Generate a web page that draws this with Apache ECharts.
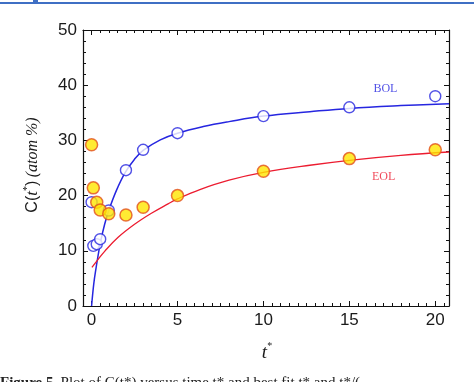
<!DOCTYPE html>
<html>
<head>
<meta charset="utf-8">
<script src="https://cdn.jsdelivr.net/npm/echarts@6/dist/echarts.min.js"></script>
<style>
html,body{margin:0;padding:0;background:#fff;}
#chart{width:474px;height:382px;}
</style>
</head>
<body>
<div id="chart"></div>
<script>
// Measured data (BOL open circles, EOL filled circles)
var bolT = [0, 0.1, 0.3, 0.5, 1, 2, 3, 5, 10, 15, 20];
var bolC = [18.8, 10.9, 11.2, 12.1, 17.3, 24.6, 28.3, 31.3, 34.4, 36.0, 38.0];
var eolT = [0, 0.1, 0.3, 0.5, 1, 2, 3, 5, 10, 15, 20];
var eolC = [29.2, 21.4, 18.8, 17.4, 16.7, 16.5, 17.9, 20.0, 24.4, 26.7, 28.3];

// Fitted curves
var bolFitT = [0, 0.13, 0.27, 0.37, 0.52, 0.76, 1.0, 1.44, 1.96, 2.5, 3.0, 4.0, 5.0, 6.5, 8, 10, 12.7, 15, 18, 20.8];
var bolFitC = [0.0, 4.1, 7.1, 9.0, 11.6, 14.8, 17.3, 20.9, 24.2, 26.6, 28.2, 30.1, 31.3, 32.5, 33.4, 34.4, 35.2, 35.8, 36.3, 36.65];
var eolFitT = [0.02, 0.37, 0.76, 1.53, 2.5, 3.48, 4.45, 5.0, 6.3, 8, 10, 12.7, 15, 18, 20.8];
var eolFitC = [7.0, 8.4, 9.9, 12.4, 14.8, 16.8, 18.5, 19.4, 21.1, 22.8, 24.2, 25.5, 26.4, 27.3, 27.9];

// Axis ticks
var xMajor = [0, 5, 10, 15, 20];
var xMinor = [-0.5, 0.5, 1, 1.5, 2, 2.5, 3, 3.5, 4, 4.5, 5.5, 6, 6.5, 7, 7.5, 8, 8.5, 9, 9.5,
              10.5, 11, 11.5, 12, 12.5, 13, 13.5, 14, 14.5, 15.5, 16, 16.5, 17, 17.5, 18, 18.5, 19, 19.5, 20.5];
var yMajor = [0, 10, 20, 30, 40, 50];
var yMinor = [2, 4, 6, 8, 12, 14, 16, 18, 22, 24, 26, 28, 32, 34, 36, 38, 42, 44, 46, 48];

// Curve labels
var curveLabels = [[17.1, 39.3, 'BOL'], [17.0, 23.4, 'EOL']];

var X_MIN = -0.5, X_MAX = 20.8, Y_MIN = 0, Y_MAX = 50;
var BLUE = '#2626e0', RED = '#ec1c30';

function zip(a, b) { return a.map(function (v, i) { return [v, b[i]]; }); }

function xAx(pos, vals, len, showLine, showLabel) {
  return {
    type: 'value', position: pos, min: X_MIN, max: X_MAX, gridIndex: 0,
    axisLine: { show: showLine, onZero: false, lineStyle: { color: '#111', width: 1.2 } },
    axisTick: { show: true, inside: true, length: len, customValues: vals, lineStyle: { color: '#111', width: 1 } },
    axisLabel: { show: showLabel, customValues: xMajor, fontFamily: 'Liberation Sans, Arial', fontSize: 17, color: '#1a1a1a', margin: 6 },
    splitLine: { show: false }
  };
}
function yAx(pos, vals, len, showLine, showLabel) {
  return {
    type: 'value', position: pos, min: Y_MIN, max: Y_MAX, gridIndex: 0,
    axisLine: { show: showLine, onZero: false, lineStyle: { color: '#111', width: 1.2 } },
    axisTick: { show: true, inside: true, length: len, customValues: vals, lineStyle: { color: '#111', width: 1 } },
    axisLabel: { show: showLabel, customValues: yMajor, fontFamily: 'Liberation Sans, Arial', fontSize: 17, color: '#1a1a1a', margin: 6 },
    splitLine: { show: false }
  };
}

var chart = echarts.init(document.getElementById('chart'));
chart.setOption({
  animation: false,
  backgroundColor: '#fff',
  grid: { left: 83, top: 30, right: 25, bottom: 76 },
  xAxis: [
    xAx('bottom', xMajor, 5, true, true),
    xAx('bottom', xMinor, 3, false, false),
    xAx('top', xMajor, 5, true, false),
    xAx('top', xMinor, 3, false, false)
  ],
  yAxis: [
    yAx('left', yMajor, 5, true, true),
    yAx('left', yMinor, 3, false, false),
    yAx('right', yMajor, 5, true, false),
    yAx('right', yMinor, 3, false, false)
  ],
  graphic: [
    { type: 'rect', shape: { x: 0, y: 2, width: 474, height: 2 }, style: { fill: '#3f6fc4' } },
    { type: 'rect', shape: { x: 33, y: 0, width: 5, height: 3 }, style: { fill: '#3f6fc4' } },
    {
      type: 'text', x: 33, y: 165, rotation: Math.PI / 2,
      style: {
        text: '{a|C(}{b|t}{s|*}{a|)} {c|(atom %)}',
        align: 'center', verticalAlign: 'middle',
        rich: {
          a: { fontFamily: 'Liberation Sans, Arial', fontSize: 16, fill: '#1a1a1a' },
          b: { fontFamily: 'Liberation Serif, Times New Roman', fontStyle: 'italic', fontSize: 17, fill: '#1a1a1a' },
          s: { fontFamily: 'Liberation Serif', fontSize: 10, fill: '#1a1a1a', verticalAlign: 'top', lineHeight: 22 },
          c: { fontFamily: 'Liberation Serif, Times New Roman', fontStyle: 'italic', fontSize: 16, fill: '#1a1a1a' }
        }
      }
    },
    {
      type: 'text', x: 267, y: 353,
      style: {
        text: '{b|t}{s|*}',
        align: 'center', verticalAlign: 'middle',
        rich: {
          b: { fontFamily: 'Liberation Serif, Times New Roman', fontStyle: 'italic', fontSize: 19, fill: '#1a1a1a' },
          s: { fontFamily: 'Liberation Serif', fontSize: 10, fill: '#1a1a1a', verticalAlign: 'top', lineHeight: 24 }
        }
      }
    },
    {
      type: 'text', x: 0, y: 376,
      style: {
        text: '{f|Figure 5.} {n|Plot of C(t*) versus time t* and best fit t* and t*/(}',
        align: 'left', verticalAlign: 'top',
        rich: {
          f: { fontFamily: 'Liberation Serif', fontWeight: 'bold', fontSize: 15, fill: '#222' },
          n: { fontFamily: 'Liberation Serif', fontSize: 15, fill: '#222' }
        }
      }
    }
  ],
  series: [
    {
      type: 'line', data: zip(bolFitT, bolFitC), showSymbol: false, smooth: 0.4,
      lineStyle: { color: BLUE, width: 1.5 }, z: 2
    },
    {
      type: 'line', data: zip(eolFitT, eolFitC), showSymbol: false, smooth: 0.4,
      lineStyle: { color: RED, width: 1.3 }, z: 2
    },
    {
      type: 'scatter', data: zip(bolT, bolC), symbol: 'circle', symbolSize: 11,
      itemStyle: { color: '#fff', borderColor: BLUE, borderWidth: 1.4 }, z: 3
    },
    {
      type: 'scatter', data: zip(eolT, eolC), symbol: 'circle', symbolSize: 12,
      itemStyle: { color: '#ffe600', borderColor: '#e2501c', borderWidth: 1.5 }, z: 4
    },
    {
      type: 'scatter', symbolSize: 0, silent: true,
      data: curveLabels.map(function (d) {
        return { value: [d[0], d[1]], name: d[2], label: { color: d[2] === 'BOL' ? BLUE : RED } };
      }),
      label: {
        show: true, position: 'inside', formatter: '{b}',
        fontFamily: 'Liberation Serif, Times New Roman', fontSize: 12
      },
      itemStyle: { color: 'transparent' }
    }
  ]
});
</script>
</body>
</html>
